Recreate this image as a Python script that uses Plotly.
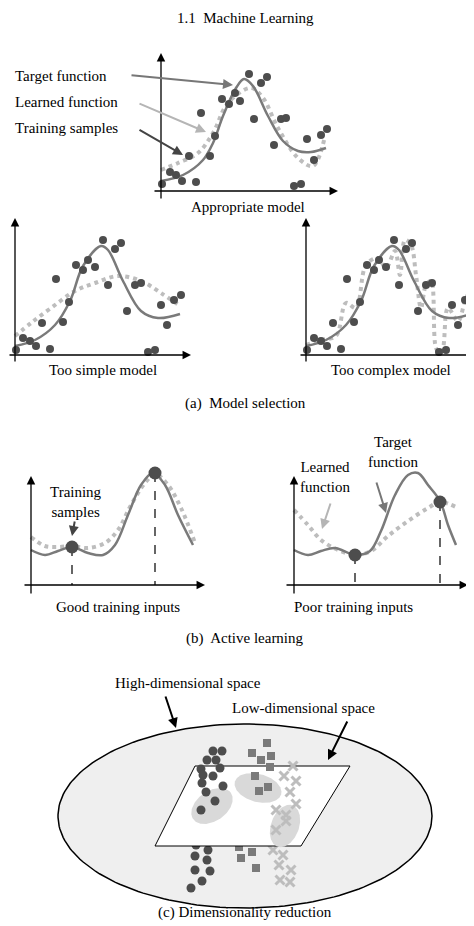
import numpy as np
import plotly.graph_objects as go

FONT = "Liberation Serif"
TARGET_C = "#7a7a7a"
LEARN_C = "#bdbdbd"
DOT_C = "#4d4d4d"

# all coordinates are in the figure's pixel space (x right, y down)

# (a) appropriate model
appr_target_x = [153, 175, 195, 205, 215, 228, 236, 245, 260, 275, 290, 303, 318]
appr_target_y = [173, 167, 152, 135, 108, 80, 71, 78, 108, 133, 143, 144, 140]
appr_learn_x = [153, 170, 190, 205, 220, 243, 255, 270, 290, 305, 317]
appr_learn_y = [162, 155, 145, 125, 95, 80, 90, 120, 150, 158, 128]
appr_samp_x = [154, 162, 168, 174, 181, 188, 193, 202, 207, 214, 221, 227, 232,
               241, 246, 253, 259, 266, 273, 278, 286, 293, 299, 306, 313, 319]
appr_samp_y = [176, 164, 167, 173, 148, 174, 105, 148, 128, 91, 96, 85, 93,
               66, 111, 75, 69, 137, 111, 110, 178, 176, 131, 152, 127, 121]

# (a) too simple / too complex share samples and target
simple_target_x = [7, 27, 47, 62, 75, 93, 100, 115, 133, 150, 172]
simple_target_y = [338, 332, 317, 293, 258, 238, 242, 273, 303, 310, 306]
simple_learn_x = [7, 23, 43, 67, 87, 110, 133, 153, 172]
simple_learn_y = [328, 315, 300, 283, 275, 268, 273, 285, 298]
simple_samp_x = [8, 15, 22, 28, 34, 42, 48, 55, 61, 68, 75, 80, 87,
                 95, 100, 107, 113, 119, 127, 133, 140, 147, 153, 159, 166, 173]
simple_samp_y = [342, 330, 333, 338, 315, 341, 271, 314, 294, 257, 262, 252, 259,
                 232, 277, 241, 235, 303, 277, 275, 344, 342, 297, 317, 292, 287]
complex_offset = 291
complex_learn_x = [298, 313, 328, 338, 348, 358, 370, 378, 387, 392, 397, 403,
                   408, 413, 418, 423, 428, 432, 435, 440, 450, 457, 462]
complex_learn_y = [337, 332, 328, 295, 300, 257, 250, 260, 243, 267, 232, 237,
                   267, 300, 277, 273, 340, 345, 340, 300, 313, 293, 282]

# (b) active learning
good_target_x = [23, 37, 50, 64, 80, 95, 107, 120, 133, 145, 157, 170, 185]
good_target_y = [542, 547, 543, 539, 545, 547, 537, 507, 477, 465, 477, 507, 537]
good_learn_x = [23, 37, 50, 64, 80, 97, 110, 123, 137, 147, 160, 173, 187]
good_learn_y = [529, 538, 539, 538, 540, 535, 522, 497, 475, 466, 477, 500, 535]
good_pts_x = [64, 147]
good_pts_y = [539, 465]
poor_target_x = [286, 300, 313, 327, 347, 362, 373, 387, 400, 410, 420, 432, 440, 448]
poor_target_y = [542, 547, 543, 540, 547, 543, 523, 487, 467, 465, 477, 493, 517, 537]
poor_learn_x = [286, 300, 313, 330, 347, 363, 380, 400, 420, 432, 450]
poor_learn_y = [502, 517, 532, 542, 547, 543, 528, 513, 500, 494, 500]
poor_pts_x = [347, 432]
poor_pts_y = [547, 494]
axis_y_b = 577

# (c) dimensionality reduction
circ_x = [205, 214, 199, 208, 193, 212, 195, 205, 194, 215, 198, 207, 193,
          188, 200, 187, 199, 187, 202, 194, 183]
circ_y = [743, 743, 752, 752, 761, 760, 767, 768, 775, 778, 784, 793, 802,
          837, 842, 848, 852, 862, 863, 873, 880]
sq_x = [259, 244, 253, 263, 262, 247, 260, 251, 231, 244, 233, 248]
sq_y = [735, 745, 752, 748, 759, 768, 779, 783, 839, 844, 850, 860]
cross_x = [285, 276, 288, 282, 288, 268, 278, 278, 268, 265, 275, 271, 283, 282, 272]
cross_y = [758, 768, 773, 784, 796, 802, 807, 813, 822, 842, 847, 857, 862, 874, 872]
plane_x = [187, 342, 293, 147, 187]
plane_y = [758, 758, 838, 838, 758]
blobs = [(204, 798, 23, 15, -35), (250, 780, 24, 14, 15), (277, 818, 14, 22, 20)]

fig = go.Figure()


def line(x, y, color, dash="solid", width=2.5):
    fig.add_trace(go.Scatter(x=x, y=y, mode="lines", line_shape="spline",
                             line=dict(color=color, width=width, dash=dash),
                             hoverinfo="skip"))


def dots(x, y, size=8, color=DOT_C, symbol="circle"):
    fig.add_trace(go.Scatter(x=x, y=y, mode="markers", hoverinfo="skip",
                             marker=dict(color=color, size=size, symbol=symbol)))


def crosses(x, y):
    fig.add_trace(go.Scatter(x=x, y=y, mode="markers", hoverinfo="skip",
                             marker=dict(symbol="x-thin", size=9, line=dict(color="#bdbdbd", width=3))))


# big ellipse
t = np.linspace(0, 2 * np.pi, 200)
fig.add_trace(go.Scatter(x=237 + 187 * np.cos(t), y=808 + 92 * np.sin(t), mode="lines",
                         fill="toself", fillcolor="#efefef",
                         line=dict(color="black", width=1.5), hoverinfo="skip"))

# (a)
line(appr_learn_x, appr_learn_y, LEARN_C, "dot", 4)
line(appr_target_x, appr_target_y, TARGET_C)
dots(appr_samp_x, appr_samp_y)

line(simple_learn_x, simple_learn_y, LEARN_C, "dot", 4)
line(simple_target_x, simple_target_y, TARGET_C)
dots(simple_samp_x, simple_samp_y)

line(complex_learn_x, complex_learn_y, LEARN_C, "dot", 4)
line([v + complex_offset for v in simple_target_x], simple_target_y, TARGET_C)
dots([v + complex_offset for v in simple_samp_x], simple_samp_y)

# (b)
for px, py in zip(good_pts_x + poor_pts_x, good_pts_y + poor_pts_y):
    fig.add_trace(go.Scatter(x=[px, px], y=[py, axis_y_b], mode="lines", hoverinfo="skip",
                             line=dict(color="black", width=1.2, dash="dash")))
line(good_learn_x, good_learn_y, LEARN_C, "dot", 4)
line(good_target_x, good_target_y, TARGET_C)
dots(good_pts_x, good_pts_y, 13)
line(poor_learn_x, poor_learn_y, LEARN_C, "dot", 4)
line(poor_target_x, poor_target_y, TARGET_C)
dots(poor_pts_x, poor_pts_y, 13)

# (c) points below the plane, then the plane, then points above
cx, cy = np.array(circ_x), np.array(circ_y)
sx, sy = np.array(sq_x), np.array(sq_y)
xx, xy = np.array(cross_x), np.array(cross_y)
below = 836
dots(cx[cy >= below], cy[cy >= below], 9)
dots(sx[sy >= below], sy[sy >= below], 8, "#7a7a7a", "square")
crosses(xx[xy >= below], xy[xy >= below])
fig.add_trace(go.Scatter(x=plane_x, y=plane_y, mode="lines", fill="toself", fillcolor="white",
                         line=dict(color="black", width=1), hoverinfo="skip"))
for bx, by, rx, ry, ang in blobs:
    a = np.deg2rad(ang)
    ex = bx + rx * np.cos(t) * np.cos(a) - ry * np.sin(t) * np.sin(a)
    ey = by + rx * np.cos(t) * np.sin(a) + ry * np.sin(t) * np.cos(a)
    fig.add_trace(go.Scatter(x=ex, y=ey, mode="lines", fill="toself", fillcolor="#d9d9d9",
                             line=dict(width=0), hoverinfo="skip"))
dots(cx[cy < below], cy[cy < below], 9)
dots(sx[sy < below], sy[sy < below], 8, "#7a7a7a", "square")
crosses(xx[xy < below], xy[xy < below])

# axes arrows: (x0, y0, x1, y1)
axis_arrows = [
    (153, 192, 153, 45), (145, 183, 330, 183),
    (7, 355, 7, 210), (0, 347, 183, 347),
    (298, 355, 298, 210), (291, 347, 472, 347),
    (23, 587, 23, 468), (15, 577, 197, 577),
    (286, 587, 286, 468), (277, 577, 460, 577),
]
annotations = []
for x0, y0, x1, y1 in axis_arrows:
    annotations.append(dict(x=x1, y=y1, ax=x0, ay=y0, xref="x", yref="y", axref="x", ayref="y",
                            text="", showarrow=True, arrowhead=2, arrowsize=1.3,
                            arrowwidth=1.3, arrowcolor="black"))

pointer_arrows = [
    (122, 67, 225, 77, "#777777"), (130, 95, 198, 124, "#b5b5b5"),
    (130, 121, 175, 147, "#444444"), (67, 512, 64, 528, "#444444"),
    (323, 494, 314, 521, "#b5b5b5"), (368, 473, 378, 505, "#777777"),
    (157, 687, 168, 720, "black"), (340, 712, 320, 752, "black"),
]
for x0, y0, x1, y1, c in pointer_arrows:
    annotations.append(dict(x=x1, y=y1, ax=x0, ay=y0, xref="x", yref="y", axref="x", ayref="y",
                            text="", showarrow=True, arrowhead=2, arrowsize=1,
                            arrowwidth=2, arrowcolor=c))

labels = [
    ("1.1  Machine Learning", 237, 10, "center"),
    ("Target function", 5, 68, "left"), ("Learned function", 5, 94, "left"),
    ("Training samples", 5, 120, "left"), ("Appropriate model", 240, 199, "center"),
    ("Too simple model", 95, 362, "center"), ("Too complex model", 383, 362, "center"),
    ("(a)  Model selection", 237, 395, "center"),
    ("Training<br>samples", 68, 494, "center"),
    ("Learned<br>function", 317, 469, "center"), ("Target<br>function", 385, 444, "center"),
    ("Good training inputs", 110, 599, "center"), ("Poor training inputs", 345, 599, "center"),
    ("(b)  Active learning", 237, 630, "center"),
    ("High-dimensional space", 180, 675, "center"), ("Low-dimensional space", 295, 700, "center"),
    ("(c) Dimensionality reduction", 237, 904, "center"),
]
for txt, lx, ly, al in labels:
    annotations.append(dict(x=lx, y=ly, xref="x", yref="y", text=txt, showarrow=False,
                            xanchor=al, yanchor="middle", align="center",
                            font=dict(family=FONT, size=15, color="black")))

fig.update_layout(
    width=474, height=926, margin=dict(l=0, r=0, t=0, b=0),
    paper_bgcolor="white", plot_bgcolor="white", showlegend=False,
    font=dict(family=FONT),
    xaxis=dict(range=[0, 474], visible=False, fixedrange=True),
    yaxis=dict(range=[926, 0], visible=False, fixedrange=True),
    annotations=annotations,
)
fig.write_html("out.html")
